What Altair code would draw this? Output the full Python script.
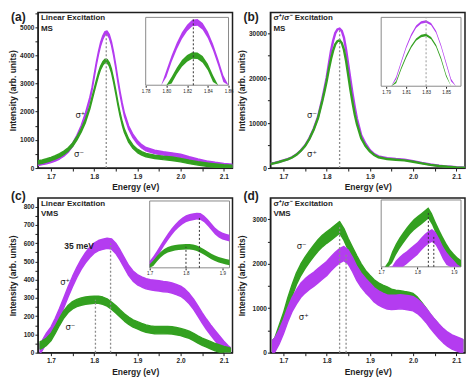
import altair as alt
import pandas as pd

FONT = "Liberation Sans"
MAGENTA = "#b43cf0"
GREEN = "#33a020"
INK = "#1e1e1e"

# ---------------- data ----------------
# panels (a) and (b): MS
ab_E = [1.67, 1.68, 1.69, 1.70, 1.71, 1.72, 1.73, 1.74, 1.75, 1.76, 1.77, 1.78, 1.79,
        1.795, 1.80, 1.805, 1.81, 1.815, 1.82, 1.825, 1.83, 1.835, 1.84, 1.845, 1.85,
        1.855, 1.86, 1.865, 1.87, 1.88, 1.89, 1.90, 1.91, 1.92, 1.94, 1.96, 1.98, 2.00,
        2.02, 2.04, 2.06, 2.08, 2.10, 2.12]
a_plus = [150, 180, 210, 250, 310, 380, 480, 620, 820, 1100, 1450, 1900, 2450, 2800, 3250,
          3700, 4080, 4400, 4630, 4780, 4800, 4680, 4420, 4050, 3600, 3100, 2650, 2250, 1900,
          1430, 1130, 920, 770, 670, 570, 520, 480, 430, 340, 260, 195, 145, 105, 75]
a_minus = [200, 230, 270, 320, 380, 450, 540, 660, 820, 1050, 1330, 1680, 2150, 2450, 2750,
           3050, 3330, 3560, 3710, 3800, 3790, 3680, 3450, 3100, 2700, 2280, 1900, 1580, 1320,
           970, 750, 610, 520, 460, 400, 360, 330, 280, 215, 165, 125, 90, 60, 40]
b_plus = [950, 1150, 1400, 1680, 2000, 2400, 3000, 3880, 5000, 6600, 8700, 11350, 15400,
          17700, 20100, 23100, 26000, 28300, 30000, 30800, 31000, 30500, 29000, 26300, 23000,
          19700, 16500, 13600, 11000, 7300, 5400, 4000, 3100, 2600, 2200, 2000, 1850, 1550,
          1150, 800, 530, 330, 190, 100]
b_minus = [900, 1100, 1350, 1650, 1950, 2350, 2950, 3800, 4900, 6450, 8500, 11100, 14900,
           17000, 19300, 21900, 24200, 26100, 27500, 28200, 28400, 27800, 26300, 23800, 20600,
           17400, 14500, 11900, 9800, 6600, 4900, 3700, 2900, 2400, 2000, 1850, 1700, 1400,
           1050, 720, 470, 290, 160, 80]

# panels (c) and (d): VMS
cd_E = [1.675, 1.68, 1.69, 1.70, 1.71, 1.72, 1.73, 1.74, 1.75, 1.76, 1.77, 1.78, 1.79, 1.80,
        1.81, 1.82, 1.83, 1.84, 1.85, 1.86, 1.87, 1.88, 1.89, 1.90, 1.91, 1.92, 1.93, 1.94,
        1.95, 1.96, 1.97, 1.98, 1.99, 2.00, 2.01, 2.02, 2.03, 2.04, 2.05, 2.06, 2.07, 2.08,
        2.09, 2.10, 2.11, 2.115]
c_plus = [20, 40, 80, 112, 160, 215, 275, 335, 390, 440, 484, 520, 550, 573, 587, 594, 600,
          596, 572, 535, 492, 450, 420, 400, 388, 378, 372, 369, 366, 362, 360, 354, 346, 337,
          320, 296, 265, 228, 190, 155, 123, 93, 64, 35, 10, 0]
c_minus = [40, 45, 60, 85, 125, 170, 210, 240, 260, 272, 280, 285, 288, 290, 290, 285, 275,
           258, 238, 215, 193, 175, 160, 150, 140, 132, 127, 124, 123, 123, 124, 122, 118, 113,
           106, 98, 86, 72, 60, 50, 40, 30, 22, 14, 8, 5]
d_plus = [120, 170, 350, 580, 850, 1080, 1250, 1400, 1500, 1580, 1650, 1730, 1810, 1890, 2000,
          2100, 2180, 2230, 2150, 1980, 1780, 1630, 1510, 1410, 1300, 1230, 1180, 1140, 1130,
          1135, 1145, 1135, 1120, 1100, 1040, 950, 840, 710, 590, 480, 380, 300, 240, 200, 160,
          140]
d_minus = [150, 200, 480, 760, 1100, 1400, 1660, 1860, 2020, 2160, 2290, 2410, 2510, 2590,
           2660, 2740, 2820, 2660, 2440, 2240, 2050, 1870, 1720, 1610, 1510, 1440, 1390, 1350,
           1300, 1275, 1265, 1245, 1230, 1200, 1120, 1000, 870, 730, 610, 500, 390, 310, 250,
           210, 175, 160]

x_ticks = [1.70, 1.75, 1.80, 1.85, 1.90, 1.95, 2.00, 2.05, 2.10]
a_yticks = [0, 500, 1000, 1500, 2000, 2500, 3000, 3500, 4000, 4500, 5000, 5500]
b_yticks = [0, 5000, 10000, 15000, 20000, 25000, 30000]
c_yticks = [0, 50, 100, 150, 200, 250, 300, 350, 400, 450, 500, 550, 600, 650, 700, 750, 800]
d_yticks = [0, 500, 1000, 1500, 2000, 2500, 3000]

a_inset_ticks = [1.78, 1.80, 1.82, 1.84, 1.86]
b_inset_ticks = [1.79, 1.81, 1.83, 1.85]
cd_inset_ticks = [1.7, 1.8, 1.9]

W = 195
X_DOM = [1.67, 2.12]

panels = [
    dict(tag="(a)", tag_y=0, heading=["Linear Excitation", "MS"], E=ab_E, plus=a_plus,
         minus=a_minus, order=["plus", "minus"], kind="band", half={"plus": 60, "minus": 60},
         ihalf={"plus": 100, "minus": 100},
         ydom=[0, 5520], yticks=a_yticks, ystep=1000, ext=18, height=156,
         rules_E=[1.828], rules_top=[4800],
         lab_E=[1.768, 1.765], lab_v=[1870, 500], lab_t=["σ⁺", "σ⁻"],
         note=None,
         ixdom=[1.78, 1.86], iydom=[2900, 4950], ipx=[108, 191], ipy=[73, 5],
         iticks=a_inset_ticks, ifmt=".2f", irules_E=[1.826], irules_lo=[2900],
         irules_hi=[4950], irule_color="#333"),
    dict(tag="(b)", tag_y=0, heading=["σ⁺/σ⁻ Excitation", "MS"], E=ab_E, plus=b_plus,
         minus=b_minus, order=["plus", "minus"], kind="line", half={"plus": 0, "minus": 0},
         ihalf={"plus": 230, "minus": 230},
         ydom=[0, 34600], yticks=b_yticks, ystep=10000, ext=22, height=156,
         rules_E=[1.83], rules_top=[31000],
         lab_E=[1.766, 1.766], lab_v=[11700, 3220], lab_t=["σ⁻", "σ⁺"],
         note=None,
         ixdom=[1.785, 1.865], iydom=[18500, 31800], ipx=[111, 191], ipy=[74, 5],
         iticks=b_inset_ticks, ifmt=".2f", irules_E=[1.83], irules_lo=[18500],
         irules_hi=[31800], irule_color="#999"),
    dict(tag="(c)", tag_y=-7, heading=["Linear Excitation", "VMS"], E=cd_E, plus=c_plus,
         minus=c_minus, order=["plus", "minus"], kind="band", half={"plus": 28, "minus": 20},
         ihalf={"plus": 35, "minus": 28},
         ydom=[0, 848], yticks=c_yticks, ystep=100, ext=18, height=155,
         rules_E=[1.803, 1.838], rules_top=[290, 598],
         lab_E=[1.733, 1.745], lab_v=[390, 142], lab_t=["σ⁺", "σ⁻"],
         note=("35 meV", 1.765, 587),
         ixdom=[1.70, 1.92], iydom=[78, 753], ipx=[112, 192], ipy=[70, 3],
         iticks=cd_inset_ticks, ifmt=".1f", irules_E=[1.80, 1.837], irules_lo=[78, 78],
         irules_hi=[290, 598], irule_color="#333"),
    dict(tag="(d)", tag_y=-7, heading=["σ⁺/σ⁻ Excitation", "VMS"], E=cd_E, plus=d_plus,
         minus=d_minus, order=["minus", "plus"], kind="band", half={"plus": 160, "minus": 130},
         ihalf={"plus": 170, "minus": 150},
         ydom=[0, 3480], yticks=d_yticks, ystep=1000, ext=22, height=155,
         rules_E=[1.830, 1.845], rules_top=[2820, 2230],
         lab_E=[1.742, 1.747], lab_v=[2390, 800], lab_t=["σ⁻", "σ⁺"],
         note=None,
         ixdom=[1.70, 1.92], iydom=[1410, 3160], ipx=[111, 191], ipy=[69, 2],
         iticks=cd_inset_ticks, ifmt=".1f", irules_E=[1.830, 1.845], irules_lo=[1410, 1410],
         irules_hi=[2820, 2230], irule_color="#333"),
]

COLORS = {"plus": MAGENTA, "minus": GREEN}
dummy = pd.DataFrame({"k": [0]})


def panel(p):
    h = p["height"]
    xs = alt.Scale(domain=X_DOM, nice=False, zero=False)
    ys = alt.Scale(domain=p["ydom"], nice=False, zero=False)
    xax = alt.Axis(values=x_ticks, grid=False, title="Energy (eV)",
                   labelExpr="round(datum.value * 100) % 10 === 0 ? format(datum.value, '.1f') : ''",
                   labelPadding=2, titlePadding=3, labelOverlap=False)
    yax = alt.Axis(values=p["yticks"], format="d", grid=False, title="Intensity (arb. units)",
                   labelExpr=f"datum.value % {p['ystep']} === 0 ? datum.label : ''",
                   minExtent=p["ext"], maxExtent=p["ext"], labelPadding=1, titlePadding=2,
                   labelOverlap=False)

    def X(f):
        return alt.X(f"{f}:Q", scale=xs, axis=xax)

    def Y(f):
        return alt.Y(f"{f}:Q", scale=ys, axis=yax)

    main = []
    for name in p["order"]:
        df = pd.DataFrame({"E": p["E"], "v": p[name]})
        col = COLORS[name]
        if p["kind"] == "band":
            hw = p["half"][name]
            main.append(
                alt.Chart(df)
                .transform_calculate(lo=f"datum.v - {hw}", hi=f"datum.v + {hw}")
                .mark_area(color=col, stroke=col, strokeWidth=1.4, strokeJoin="round", clip=True)
                .encode(x=X("E"), y=Y("lo"), y2=alt.Y2("hi:Q"))
            )
        else:
            main.append(
                alt.Chart(df).mark_line(color=col, strokeWidth=2.4, clip=True)
                .encode(x=X("E"), y=Y("v"))
            )
    rdf = pd.DataFrame({"E": p["rules_E"], "y0": [0] * len(p["rules_E"]), "y1": p["rules_top"]})
    main.append(
        alt.Chart(rdf).mark_rule(color="#8c8c8c", strokeDash=[2, 2], strokeWidth=1.3)
        .encode(x=X("E"), y=Y("y0"), y2=alt.Y2("y1:Q"))
    )
    ldf = pd.DataFrame({"E": p["lab_E"], "v": p["lab_v"], "t": p["lab_t"]})
    main.append(
        alt.Chart(ldf).mark_text(fontSize=8.5, color=INK, font="DejaVu Sans")
        .encode(x=X("E"), y=Y("v"), text="t:N")
    )
    if p["note"]:
        ndf = pd.DataFrame({"E": [p["note"][1]], "v": [p["note"][2]], "t": [p["note"][0]]})
        main.append(
            alt.Chart(ndf).mark_text(fontSize=8.5, fontWeight="bold", color=INK, font=FONT)
            .encode(x=X("E"), y=Y("v"), text="t:N")
        )
    main.append(
        alt.Chart(dummy).mark_text(align="left", baseline="top", fontSize=8, fontWeight="bold",
                                   lineHeight=10.5, color=INK, font=FONT)
        .encode(x=alt.value(3), y=alt.value(2), text=alt.value(p["heading"]))
    )
    main.append(
        alt.Chart(dummy).mark_text(align="left", baseline="top", fontSize=12, fontWeight="bold",
                                   color=INK, font=FONT)
        .encode(x=alt.value(-27), y=alt.value(p["tag_y"]), text=alt.value(p["tag"]))
    )

    # ---- inset ----
    ixs = alt.Scale(domain=p["ixdom"], range=p["ipx"], nice=False, zero=False)
    iys = alt.Scale(domain=p["iydom"], range=p["ipy"], nice=False, zero=False, clamp=True)
    iax = alt.Axis(orient="bottom", offset=p["ipy"][0] - h, values=p["iticks"], format=p["ifmt"],
                   labelFontSize=4.5, labelFontWeight="normal", tickSize=2, labelPadding=1,
                   domain=False, grid=False, title=None, labelOverlap=False, labelFlush=False)

    def IX(f):
        return alt.X(f"{f}:Q", scale=ixs, axis=iax)

    def IY(f):
        return alt.Y(f"{f}:Q", scale=iys, axis=None)

    fdf = pd.DataFrame({"x0": [p["ixdom"][0]], "x1": [p["ixdom"][1]],
                        "y0": [p["iydom"][0]], "y1": [p["iydom"][1]]})
    ins = [
        alt.Chart(fdf).mark_rect(fill="white", stroke="#8a8a8a", strokeWidth=1)
        .encode(x=IX("x0"), x2=alt.X2("x1:Q"), y=IY("y0"), y2=alt.Y2("y1:Q"))
    ]
    lo_x, hi_x = p["ixdom"]
    for name in p["order"]:
        df = pd.DataFrame({"E": p["E"], "v": p[name]})
        col = COLORS[name]
        hw = p["ihalf"][name]
        ins.append(
            alt.Chart(df)
            .transform_filter(f"datum.E >= {lo_x} && datum.E <= {hi_x}")
            .transform_calculate(lo=f"datum.v - {hw}", hi=f"datum.v + {hw}")
            .mark_area(color=col)
            .encode(x=IX("E"), y=IY("lo"), y2=alt.Y2("hi:Q"))
        )
    irdf = pd.DataFrame({"E": p["irules_E"], "y0": p["irules_lo"], "y1": p["irules_hi"]})
    ins.append(
        alt.Chart(irdf).mark_rule(color=p["irule_color"], strokeDash=[2, 2], strokeWidth=1)
        .encode(x=IX("E"), y=IY("y0"), y2=alt.Y2("y1:Q"))
    )

    return (
        alt.layer(alt.layer(*main), alt.layer(*ins))
        .resolve_scale(x="independent", y="independent")
        .properties(width=W, height=h)
    )


chart = (
    alt.concat(*[panel(p) for p in panels], columns=2,
               spacing={"row": 30, "column": 38}, bounds="flush")
    .properties(padding=0)
    .configure_view(stroke=INK, strokeWidth=1.5)
    .configure_axis(labelFont=FONT, titleFont=FONT, labelFontSize=6.5, labelFontWeight="bold",
                    titleFontSize=8.5, titleFontWeight="bold", labelColor=INK, titleColor=INK,
                    tickColor=INK, domainColor=INK, tickSize=3)
)

chart.save("out.html", embed_options={"renderer": "svg", "actions": False})
